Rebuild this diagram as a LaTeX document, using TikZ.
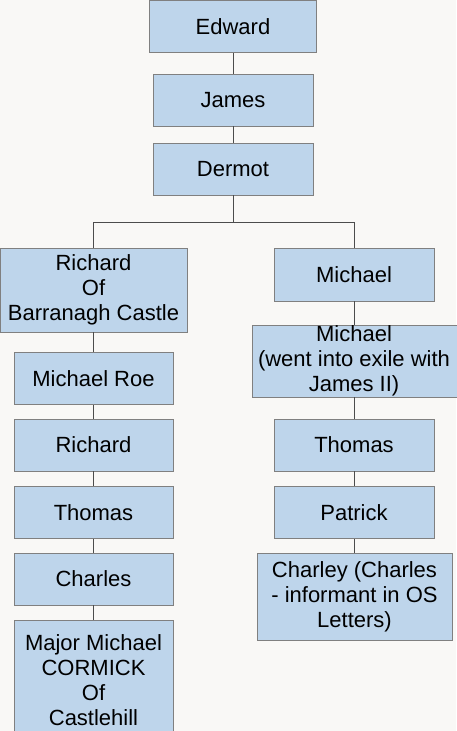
\documentclass[tikz,border=0pt]{standalone}
\usepackage{fontspec}
\setmainfont{Liberation Sans}
\usepackage{xcolor}
\usetikzlibrary{positioning, calc}

\definecolor{boxfill}{RGB}{190,213,235}
\definecolor{boxline}{RGB}{128,128,128}
\definecolor{paper}{RGB}{249,248,246}

\begin{document}
\begin{tikzpicture}[x=1pt, y=-1pt,
    person/.style={draw=boxline, fill=boxfill, line width=0.9pt, rectangle, align=center,
      inner sep=0pt, font=\fontsize{22}{25}\selectfont},
    link/.style={draw=black!70, line width=0.9pt}]
    \fill[paper] (0,0) rectangle (456,731);
    \useasboundingbox (0,0) rectangle (456,731);

    % top line
    \node (edward) [person, minimum width=167pt, minimum height=52pt] at (233,26.5) {Edward};
    \node (james) [person, minimum width=160pt, minimum height=52pt] at (233,100) {James};
    \node (dermot) [person, minimum width=160pt, minimum height=52pt] at (233,169) {Dermot};
    \coordinate (fork) at (233,222);

    % left branch
    \node (barranagh) [person, minimum width=187pt, minimum height=84pt] at (93.5,290) {Richard\\Of\\Barranagh Castle};
    \node (michaelroe) [person, minimum width=159pt, minimum height=52pt] at (93.5,378.5) {Michael Roe};
    \node (richard) [person, minimum width=159pt, minimum height=52pt] at (93.5,445) {Richard};
    \node (thomasl) [person, minimum width=159pt, minimum height=52pt] at (93.5,512.5) {Thomas};
    \node (charles) [person, minimum width=159pt, minimum height=52pt] at (93.5,579) {Charles};
    \node (major) [person, minimum width=159pt, minimum height=120pt, anchor=north] at (93.5,620) {Major Michael\\CORMICK\\Of\\Castlehill};

    % right branch
    \node (michael) [person, minimum width=160pt, minimum height=53pt] at (354,274.5) {Michael};
    \node (exile) [person, minimum width=208pt, minimum height=72pt] at (356,361) {\hspace*{-4pt}Michael\\\hspace*{-4pt}(went into exile with\\\hspace*{-4pt}James II)};
    \node (thomasr) [person, minimum width=160pt, minimum height=52pt] at (354,445) {Thomas};
    \node (patrick) [person, minimum width=160pt, minimum height=52pt] at (354,512.5) {Patrick};
    \node (charley) [person, minimum width=195pt, minimum height=87pt] at (354.5,596.5) {Charley (Charles\\- informant in OS\\Letters)};

    \draw [link] (edward) -- (james);
    \draw [link] (james) -- (dermot);
    \draw [link] (dermot) -- (fork);
    \draw [link] (fork) -| (barranagh);
    \draw [link] (fork) -| (michael);
    \draw [link] (barranagh) -- (michaelroe);
    \draw [link] (michaelroe) -- (richard);
    \draw [link] (richard) -- (thomasl);
    \draw [link] (thomasl) -- (charles);
    \draw [link] (charles) -- (major);
    \draw [link] (michael) -- (michael |- exile.north);
    \draw [link] (thomasr |- exile.south) -- (thomasr);
    \draw [link] (thomasr) -- (patrick);
    \draw [link] (patrick) -- (patrick |- charley.north);
\end{tikzpicture}
\end{document}
